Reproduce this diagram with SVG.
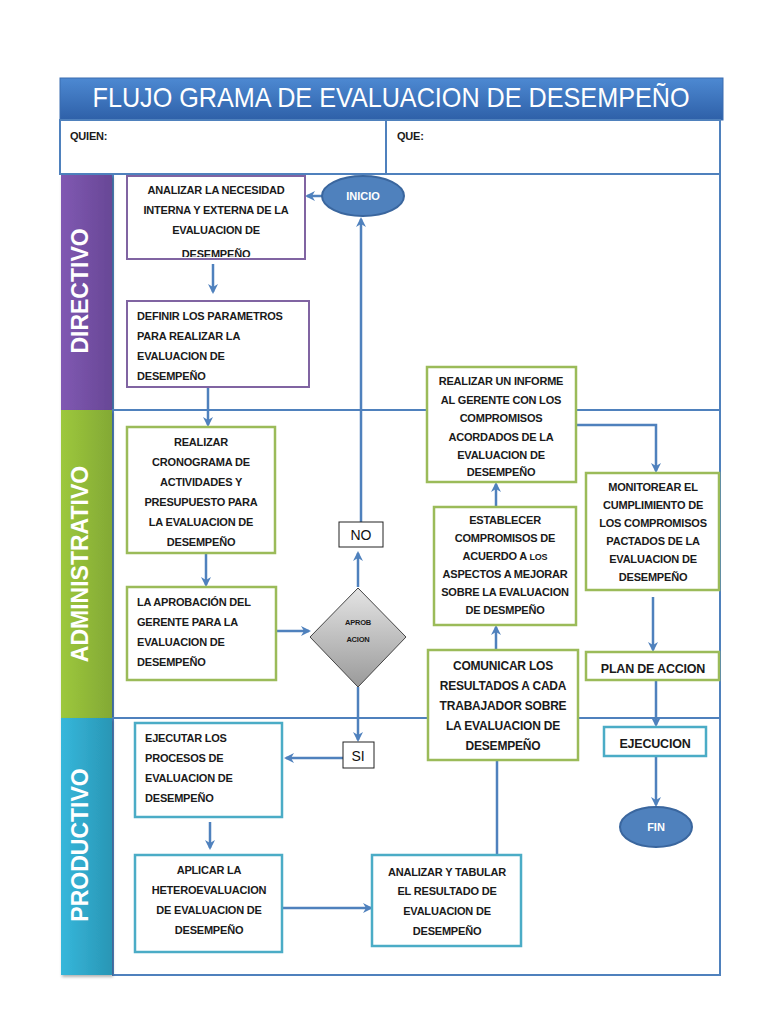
<svg xmlns="http://www.w3.org/2000/svg" width="768" height="1024" viewBox="0 0 768 1024">
<defs>
<linearGradient id="gTitle" x1="0" y1="0" x2="0" y2="1"><stop offset="0" stop-color="#4d89d2"/><stop offset="1" stop-color="#2e60a8"/></linearGradient>
<linearGradient id="gPur" x1="0" y1="0" x2="1" y2="0"><stop offset="0" stop-color="#8058b2"/><stop offset="1" stop-color="#684896"/></linearGradient>
<linearGradient id="gGrn" x1="0" y1="0" x2="1" y2="0"><stop offset="0" stop-color="#9dc83c"/><stop offset="1" stop-color="#83a935"/></linearGradient>
<linearGradient id="gCyn" x1="0" y1="0" x2="1" y2="0"><stop offset="0" stop-color="#36b7db"/><stop offset="1" stop-color="#2996b5"/></linearGradient>
<linearGradient id="gDia" x1="0" y1="0" x2="0" y2="1"><stop offset="0" stop-color="#e4e4e4"/><stop offset="1" stop-color="#9a9a9a"/></linearGradient>
<marker id="arr" viewBox="0 0 10 10" refX="8" refY="5" markerWidth="4" markerHeight="4" orient="auto" markerUnits="strokeWidth"><path d="M0,0 L10,5 L0,10 L3,5 Z" fill="#4f81bd"/></marker>
<clipPath id="c1"><rect x="127" y="176" width="178" height="81"/></clipPath>
<filter id="sh" x="-20%" y="-5%" width="140%" height="110%"><feDropShadow dx="1" dy="2" stdDeviation="1.5" flood-color="#000" flood-opacity="0.3"/></filter>
</defs>
<style>
.lane{fill:#fff;stroke:#4f81bd;stroke-width:2}
.bp{fill:#fff;stroke:#8064a2;stroke-width:2}
.bg{fill:#fff;stroke:#9bbb59;stroke-width:2.5}
.bc{fill:#fff;stroke:#4bacc6;stroke-width:2.5}
.t{font-family:"Liberation Sans Narrow","Liberation Sans",Arial,sans-serif;font-weight:bold;font-size:11px;fill:#1a1a1a;letter-spacing:-0.2px}
.tc{text-anchor:middle}
.side{font-family:"Liberation Sans",Arial,sans-serif;font-weight:bold;font-size:23px;fill:#fff;text-anchor:middle}
.con{fill:none;stroke:#4f81bd;stroke-width:2.5}
.ca{fill:none;stroke:#4f81bd;stroke-width:2.5;marker-end:url(#arr)}
.ell{fill:#4f81bd;stroke:#3a669e;stroke-width:2}
.wt{font-family:"Liberation Sans Narrow","Liberation Sans",Arial,sans-serif;font-weight:bold;font-size:11px;fill:#fff;text-anchor:middle}
.lbl{fill:#fff;stroke:#222;stroke-width:1}
.lt{font-family:"Liberation Sans",Arial,sans-serif;font-size:14px;fill:#111;text-anchor:middle}
</style>

<g id="title">
<rect x="60" y="78" width="663" height="42" fill="url(#gTitle)" stroke="#3a6db0" stroke-width="1"/>
<text x="391" y="107" font-family="Liberation Sans Narrow, Liberation Sans, Arial, sans-serif" font-size="28" fill="#fff" text-anchor="middle" textLength="597" lengthAdjust="spacingAndGlyphs">FLUJO GRAMA DE EVALUACION DE DESEMPEÑO</text>
</g>
<g id="header">
<rect x="60" y="120" width="660" height="54" class="lane"/>
<line x1="386" y1="120" x2="386" y2="174" stroke="#4f81bd" stroke-width="2"/>
<text x="70" y="140" class="t">QUIEN:</text>
<text x="397" y="140" class="t">QUE:</text>
</g>

<g id="lane-directivo">
<rect x="113" y="174" width="607" height="236" class="lane"/>
<rect x="61" y="175" width="51" height="235" fill="url(#gPur)" filter="url(#sh)"/>
<text transform="translate(88,291) rotate(-90)" class="side">DIRECTIVO</text>
</g>
<g id="lane-administrativo">
<rect x="113" y="410" width="607" height="308" class="lane"/>
<rect x="61" y="410" width="51" height="308" fill="url(#gGrn)" filter="url(#sh)"/>
<text transform="translate(88,564) rotate(-90)" class="side">ADMINISTRATIVO</text>
</g>
<g id="lane-productivo">
<rect x="113" y="718" width="607" height="257" class="lane"/>
<rect x="61" y="718" width="51" height="257" fill="url(#gCyn)" filter="url(#sh)"/>
<text transform="translate(88,845) rotate(-90)" class="side">PRODUCTIVO</text>
</g>

<g id="connectors">
<line x1="322" y1="196" x2="307" y2="196" class="ca"/>
<line x1="213" y1="264" x2="213" y2="292" class="ca"/>
<line x1="208" y1="387" x2="208" y2="425" class="ca"/>
<line x1="206" y1="553" x2="206" y2="585" class="ca"/>
<line x1="276" y1="631" x2="309" y2="631" class="ca"/>
<line x1="358" y1="587" x2="358" y2="553" class="ca"/>
<line x1="361" y1="522" x2="361" y2="219" class="ca"/>
<line x1="358" y1="687" x2="358" y2="740" class="ca"/>
<line x1="343" y1="758" x2="286" y2="758" class="ca"/>
<line x1="210" y1="822" x2="210" y2="848" class="ca"/>
<line x1="282" y1="908" x2="371" y2="908" class="ca"/>
<line x1="497" y1="855" x2="497" y2="760" class="con"/>
<line x1="496" y1="650" x2="496" y2="627" class="ca"/>
<line x1="496" y1="506" x2="496" y2="484" class="ca"/>
<polyline points="576,425 656,425 656,471" class="ca"/>
<line x1="653" y1="597" x2="653" y2="650" class="ca"/>
<line x1="656" y1="680" x2="656" y2="725" class="ca"/>
<line x1="656" y1="757" x2="656" y2="805" class="ca"/>
</g>

<g id="n-analizar">
<rect x="127" y="176" width="178" height="83" class="bp"/>
<g clip-path="url(#c1)">
<text class="t tc" x="216"><tspan x="216" y="194">ANALIZAR LA NECESIDAD</tspan><tspan x="216" y="214">INTERNA Y EXTERNA DE LA</tspan><tspan x="216" y="234">EVALUACION DE</tspan><tspan x="216" y="258">DESEMPEÑO</tspan></text>
</g>
</g>
<g id="n-inicio">
<ellipse cx="363" cy="196" rx="41" ry="20" class="ell"/>
<text x="363" y="200" class="wt">INICIO</text>
</g>
<g id="n-definir">
<rect x="127" y="301" width="182" height="86" class="bp"/>
<text class="t"><tspan x="137" y="320">DEFINIR LOS PARAMETROS</tspan><tspan x="137" y="340">PARA REALIZAR LA</tspan><tspan x="137" y="360">EVALUACION DE</tspan><tspan x="137" y="380">DESEMPEÑO</tspan></text>
</g>
<g id="n-cronograma">
<rect x="127" y="427" width="148" height="126" class="bg"/>
<text class="t tc"><tspan x="201" y="446">REALIZAR</tspan><tspan x="201" y="466">CRONOGRAMA DE</tspan><tspan x="201" y="486">ACTIVIDADES Y</tspan><tspan x="201" y="506">PRESUPUESTO PARA</tspan><tspan x="201" y="526">LA EVALUACION DE</tspan><tspan x="201" y="546">DESEMPEÑO</tspan></text>
</g>
<g id="n-aprobacion-gerente">
<rect x="127" y="587" width="149" height="93" class="bg"/>
<text class="t"><tspan x="137" y="606">LA APROBACIÓN DEL</tspan><tspan x="137" y="626">GERENTE PARA LA</tspan><tspan x="137" y="646">EVALUACION DE</tspan><tspan x="137" y="666">DESEMPEÑO</tspan></text>
</g>
<g id="n-decision">
<polygon points="358,588 406,637 358,687 310,637" fill="url(#gDia)" stroke="#444" stroke-width="1"/>
<text class="t tc" style="font-size:7.5px"><tspan x="358" y="625">APROB</tspan><tspan x="358" y="642">ACION</tspan></text>
</g>
<g id="n-no">
<rect x="339" y="522" width="44" height="25" class="lbl"/>
<text x="361" y="540" class="lt">NO</text>
</g>
<g id="n-si">
<rect x="343" y="742" width="31" height="26" class="lbl"/>
<text x="358" y="761" class="lt">SI</text>
</g>
<g id="n-informe">
<rect x="427" y="367" width="149" height="115" class="bg"/>
<text class="t tc"><tspan x="501" y="385">REALIZAR UN INFORME</tspan><tspan x="501" y="404">AL GERENTE CON LOS</tspan><tspan x="501" y="422">COMPROMISOS</tspan><tspan x="501" y="441">ACORDADOS DE LA</tspan><tspan x="501" y="459">EVALUACION DE</tspan><tspan x="501" y="476">DESEMPEÑO</tspan></text>
</g>
<g id="n-establecer">
<rect x="434" y="507" width="142" height="118" class="bg"/>
<text class="t tc"><tspan x="505" y="524">ESTABLECER</tspan><tspan x="505" y="542">COMPROMISOS DE</tspan><tspan x="505" y="560">ACUERDO A <tspan style="font-size:9px">LOS</tspan></tspan><tspan x="505" y="578">ASPECTOS A MEJORAR</tspan><tspan x="505" y="596">SOBRE LA EVALUACION</tspan><tspan x="505" y="614">DE DESMPEÑO</tspan></text>
</g>
<g id="n-comunicar">
<rect x="428" y="650" width="150" height="110" class="bg"/>
<text class="t tc" style="font-size:12px"><tspan x="503" y="670">COMUNICAR LOS</tspan><tspan x="503" y="690">RESULTADOS A CADA</tspan><tspan x="503" y="710">TRABAJADOR SOBRE</tspan><tspan x="503" y="730">LA EVALUACION DE</tspan><tspan x="503" y="750">DESEMPEÑO</tspan></text>
</g>
<g id="n-monitorear">
<rect x="586" y="473" width="133" height="117" class="bg"/>
<text class="t tc"><tspan x="653" y="491">MONITOREAR EL</tspan><tspan x="653" y="509">CUMPLIMIENTO DE</tspan><tspan x="653" y="527">LOS COMPROMISOS</tspan><tspan x="653" y="545">PACTADOS DE LA</tspan><tspan x="653" y="563">EVALUACION DE</tspan><tspan x="653" y="581">DESEMPEÑO</tspan></text>
</g>
<g id="n-plan">
<rect x="586" y="652" width="133" height="28" class="bg"/>
<text x="653" y="673" class="t tc" style="font-size:12.5px">PLAN DE ACCION</text>
</g>
<g id="n-ejecucion">
<rect x="604" y="727" width="102" height="29" class="bc"/>
<text x="655" y="748" class="t tc" style="font-size:12.5px">EJECUCION</text>
</g>
<g id="n-fin">
<ellipse cx="656" cy="827" rx="36" ry="20" class="ell"/>
<text x="656" y="831" class="wt">FIN</text>
</g>
<g id="n-ejecutar">
<rect x="135" y="723" width="147" height="94" class="bc"/>
<text class="t"><tspan x="145" y="742">EJECUTAR LOS</tspan><tspan x="145" y="762">PROCESOS DE</tspan><tspan x="145" y="782">EVALUACION DE</tspan><tspan x="145" y="802">DESEMPEÑO</tspan></text>
</g>
<g id="n-aplicar">
<rect x="135" y="855" width="147" height="97" class="bc"/>
<text class="t tc"><tspan x="209" y="874">APLICAR LA</tspan><tspan x="209" y="894">HETEROEVALUACION</tspan><tspan x="209" y="914">DE EVALUACION DE</tspan><tspan x="209" y="934">DESEMPEÑO</tspan></text>
</g>
<g id="n-analizar-tabular">
<rect x="372" y="855" width="149" height="91" class="bc"/>
<text class="t tc"><tspan x="447" y="876">ANALIZAR Y TABULAR</tspan><tspan x="447" y="895">EL RESULTADO DE</tspan><tspan x="447" y="915">EVALUACION DE</tspan><tspan x="447" y="935">DESEMPEÑO</tspan></text>
</g>
</svg>
